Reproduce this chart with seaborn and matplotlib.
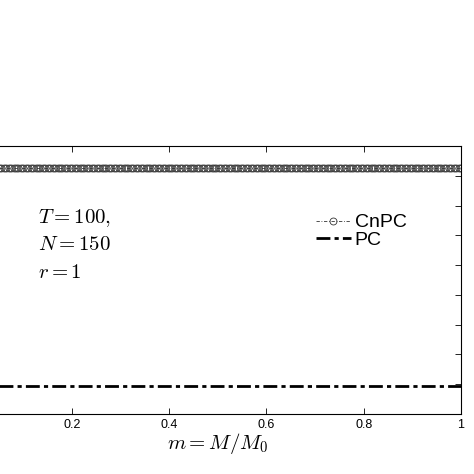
import numpy as np
import pandas as pd
import matplotlib
matplotlib.use("Agg")
import matplotlib.pyplot as plt
import seaborn as sns

sns.set_style("white")
plt.rcParams['font.family'] = ['Liberation Sans', 'DejaVu Sans']
plt.rcParams['mathtext.fontset'] = 'cm'
plt.rcParams['text.color'] = 'black'
plt.rcParams['xtick.color'] = 'black'

n_points = 200
m_values = list(np.linspace(0, 1, n_points))
cnpc_values = [0.825] * n_points
pc_values = [0.094] * n_points
x_ticks = [0.2, 0.4, 0.6, 0.8, 1]
x_tick_labels = ["0.2", "0.4", "0.6", "0.8", "1"]

df = pd.DataFrame({"m": m_values, "CnPC": cnpc_values, "PC": pc_values})

fig = plt.figure(figsize=(4.74, 4.74), dpi=100)
ax = fig.add_axes([-0.054, 0.1266, 1.0266, 0.5654])

sns.lineplot(data=df, x="m", y="CnPC", ax=ax, color="#333333", lw=0.6,
             linestyle=(0, (4, 2, 1, 2)), marker="o", markersize=5,
             markerfacecolor="none", markeredgecolor="#333333", markeredgewidth=0.6,
             label="CnPC")
sns.lineplot(data=df, x="m", y="PC", ax=ax, color="black", lw=2,
             linestyle=(0, (5, 1.5, 1.5, 1.5)), label="PC")

ax.set_xlim(0, 1)
ax.set_ylim(0, 0.9)
ax.set_xticks(x_ticks)
ax.set_xticklabels(x_tick_labels, fontsize=9)
ax.set_yticks(np.arange(0, 0.91, 0.1))
ax.set_yticklabels([])
ax.tick_params(axis='both', direction='in', length=4, right=True, top=True,
               bottom=True, left=True, width=0.6, colors='black')
for s in ax.spines.values():
    s.set_linewidth(0.8)
    s.set_color("black")
ax.set_xlabel(r"$m = M/M_0$", fontsize=15, labelpad=0, color="black")
ax.set_ylabel("")

ax.text(38/474, 1-218/474, r"$T = 100,$", transform=fig.transFigure, fontsize=15, va="center")
ax.text(38/474, 1-245/474, r"$N = 150$", transform=fig.transFigure, fontsize=15, va="center")
ax.text(38/474, 1-272/474, r"$r = 1$", transform=fig.transFigure, fontsize=15, va="center")

leg = ax.legend(loc="upper left", bbox_to_anchor=(306/474, 1-204/474),
                bbox_transform=fig.transFigure, frameon=False, fontsize=14,
                handlelength=1.8, handletextpad=0.2, labelspacing=0.0, borderpad=0)
for t in leg.get_texts():
    t.set_color("black")

fig.savefig("out.png", dpi=100)
